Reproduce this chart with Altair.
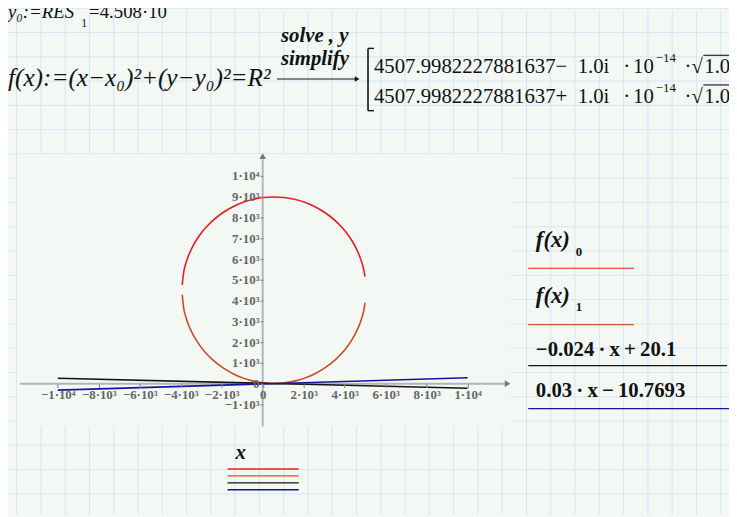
import altair as alt
import pandas as pd
import numpy as np

# ---------------- data ----------------
arc_x = [-3930, -3850, -3750, -3650, -3450, -3250, -2950, -2750, -2450, -1950, -1450, -950, -450, 50, 550,
         1050, 1550, 2050, 2550, 3050, 3550, 3850, 4050, 4350, 4550, 4750, 4850, 4950, 4990]
arc_upper_y = [4760, 5395, 5792, 6088, 6540, 6892, 7313, 7545, 7841, 8230, 8520, 8732, 8877, 8962, 8985,
               8962, 8877, 8732, 8520, 8230, 7841, 7545, 7313, 6892, 6540, 6088, 5792, 5395, 5150]
arc_lower_y = [4290, 3605, 3208, 2912, 2460, 2108, 1687, 1455, 1159, 770, 480, 268, 123, 38, 10,
               38, 123, 268, 480, 770, 1159, 1455, 1687, 2108, 2460, 2912, 3208, 3605, 3900]
line_x = [-10000, 10000]
black_line_y = [260, -220]
blue_line_y = [-311, 289]

series_names = ["f(x)0", "f(x)1", "-0.024x+20.1", "0.03x-10.7693"]
series_colors = ["#ee1c1c", "#d04a22", "#141414", "#1414a0"]

x_tick_values = [-10000, -8000, -6000, -4000, -2000, 0, 2000, 4000, 6000, 8000, 10000]
x_tick_labels = ["−1·10⁴", "−8·10³", "−6·10³", "−4·10³", "−2·10³", "0",
                 "2·10³", "4·10³", "6·10³", "8·10³", "1·10⁴"]
y_tick_values = [-1000, 0, 1000, 2000, 3000, 4000, 5000, 6000, 7000, 8000, 9000, 10000]
y_tick_labels = ["−1·10³", "0", "1·10³", "2·10³", "3·10³", "4·10³", "5·10³",
                 "6·10³", "7·10³", "8·10³", "9·10³", "1·10⁴"]

x_domain = [-11850, 11800]
y_domain = [-2060, 10810]

# ---------------- layout ----------------
W, H = 729, 509
OFF = 8  # page margin


def P(v):
    return v - OFF


BG = "#f4f8f5"
GRID = "#d5e5f5"


def label_expr(vals, labels):
    s = "''"
    for v, l in reversed(list(zip(vals, labels))):
        s = f"datum.value == {v} ? '{l}' : ({s})"
    return s


common_axis = dict(domain=False, grid=False, ticks=True, tickColor="#8c8c8c", tickWidth=1.2,
                   labelFont="Liberation Serif", labelFontWeight="bold", labelFontSize=13,
                   labelColor="#666666", title=None, zindex=1, labelOverlap=False, labelFlush=False)
x_axis = alt.Axis(values=x_tick_values, labelExpr=label_expr(x_tick_values, x_tick_labels),
                  orient="bottom", offset=P(385) - H, tickSize=4, labelPadding=1, **common_axis)
y_axis = alt.Axis(values=y_tick_values, labelExpr=label_expr(y_tick_values, y_tick_labels),
                  orient="left", offset=-(P(265.8)), tickSize=3, labelPadding=1, **common_axis)

xs = alt.Scale(domain=x_domain, range=[P(20), P(510)], nice=False, zero=False)
ys = alt.Scale(domain=y_domain, range=[P(428.3), P(158)], nice=False, zero=False)


def XE(f):
    return alt.X(f, type="quantitative", scale=xs, axis=x_axis)


def YE(f):
    return alt.Y(f, type="quantitative", scale=ys, axis=y_axis)


# ---------------- worksheet grid ----------------
gx = [P(16.7 + 24.55 * k) for k in range(-1, 31)]
gy = [P(152.7 + 24.55 * k) for k in range(-7, 16)]
grid_v = alt.Chart(pd.DataFrame({"gx": gx})).mark_rule(color=GRID, strokeWidth=1).encode(
    x=alt.X("gx:Q", scale=None, axis=None), y=alt.value(0), y2=alt.value(H))
grid_h = alt.Chart(pd.DataFrame({"gy": gy})).mark_rule(color=GRID, strokeWidth=1).encode(
    y=alt.Y("gy:Q", scale=None, axis=None), x=alt.value(0), x2=alt.value(W))

plot_bg = alt.Chart(pd.DataFrame({"a": [0]})).mark_rect(color=BG).encode(
    x=alt.value(P(17.2)), x2=alt.value(P(516)), y=alt.value(P(153.2)), y2=alt.value(P(428)))

# ---------------- axes lines with arrows ----------------
xline = alt.Chart(pd.DataFrame({"x1": [x_domain[0]], "x2": [x_domain[1]], "y": [0]})).mark_rule(
    color="#b4b4b4", strokeWidth=2).encode(x=XE("x1"), x2="x2:Q", y=YE("y"))
yline = alt.Chart(pd.DataFrame({"x": [0], "y1": [y_domain[0]], "y2": [y_domain[1]]})).mark_rule(
    color="#b4b4b4", strokeWidth=2).encode(x=XE("x"), y=YE("y1"), y2="y2:Q")
arrow_r = alt.Chart(pd.DataFrame({"x": [11950], "y": [0]})).mark_point(
    shape="triangle-right", filled=True, color="#777777", size=45, opacity=1).encode(x=XE("x"), y=YE("y"))
arrow_u = alt.Chart(pd.DataFrame({"x": [0], "y": [10950]})).mark_point(
    shape="triangle-up", filled=True, color="#777777", size=45, opacity=1).encode(x=XE("x"), y=YE("y"))

# ---------------- curves ----------------
frames = [
    pd.DataFrame({"series": series_names[0], "x": arc_x, "y": arc_upper_y}),
    pd.DataFrame({"series": series_names[1], "x": arc_x, "y": arc_lower_y}),
    pd.DataFrame({"series": series_names[2], "x": line_x, "y": black_line_y}),
    pd.DataFrame({"series": series_names[3], "x": line_x, "y": blue_line_y}),
]
curves_df = pd.concat(frames, ignore_index=True)
curves = alt.Chart(curves_df).mark_line(strokeWidth=1.6, interpolate="monotone").encode(
    x=XE("x"), y=YE("y"),
    color=alt.Color("series:N", scale=alt.Scale(domain=series_names, range=series_colors), legend=None),
    detail="series:N")

# ---------------- decorative rules (legend swatches, bracket, arrow) ----------------
rules = [
    # legend swatches on the right
    (534, 641, 268.3, 268.3, series_colors[0], 1.2),
    (534, 641, 325.3, 325.3, "#c0603e", 1.2),
    (534, 735, 366.7, 366.7, series_colors[2], 1.2),
    (534, 737, 410.3, 410.3, series_colors[3], 1.2),
    # bottom legend swatches
    (230, 302, 471.3, 471.3, series_colors[0], 1.4),
    (230, 302, 478.3, 478.3, "#e04a1e", 1.4),
    (230, 302, 485.3, 485.3, series_colors[2], 1.4),
    (230, 302, 492.3, 492.3, series_colors[3], 1.4),
    # symbolic arrow
    (280, 360, 77, 77, "#111111", 1.1),
    # bracket
    (372, 372, 46, 109, "#111111", 1.6),
    (372, 378, 46, 46, "#111111", 1.4),
    (372, 378, 109, 109, "#111111", 1.4),
    # sqrt overlines
    (711, 737, 53, 53, "#111111", 1.1),
    (711, 737, 83, 83, "#111111", 1.1),
]
rules_df = pd.DataFrame(rules, columns=["x1", "x2", "y1", "y2", "c", "w"])
for col in ["x1", "x2", "y1", "y2"]:
    rules_df[col] = rules_df[col].map(P)
deco = alt.Chart(rules_df).mark_rule().encode(
    x=alt.X("x1:Q", scale=None, axis=None), x2="x2:Q",
    y=alt.Y("y1:Q", scale=None, axis=None), y2="y2:Q",
    color=alt.Color("c:N", scale=None), strokeWidth=alt.StrokeWidth("w:Q", scale=None))
tri = alt.Chart(pd.DataFrame({"x": [P(361)], "y": [P(77)]})).mark_point(
    shape="triangle-right", filled=True, color="#111111", size=30, opacity=1).encode(
    x=alt.X("x:Q", scale=None, axis=None), y=alt.Y("y:Q", scale=None, axis=None))

# ---------------- text ----------------
T = "\u2009"
texts = [
    ("y₀:=RES", 8, 15, 19, "italic", "normal"),
    ("1", 82, 24, 12, "normal", "normal"),
    ("=4.508·10", 90, 15, 19, "normal", "normal"),
    ("f(x):=(x−x₀)²+(y−y₀)²=R²", 8, 84, 25.5, "italic", "normal"),
    ("solve , y", 284, 40, 21, "italic", "bold"),
    ("simplify", 284, 63, 21, "italic", "bold"),
    ("4507.9982227881637−", 378, 71, 21, "normal", "normal"),
    ("1.0i", 584, 71, 21, "normal", "normal"),
    ("·", 630, 71, 21, "normal", "normal"),
    ("10", 640, 71, 21, "normal", "normal"),
    ("−14", 663, 60, 13, "normal", "normal"),
    ("·", 692, 71, 21, "normal", "normal"),
    ("√", 699, 71, 21, "normal", "normal"),
    ("1.0·", 712, 71, 21, "normal", "normal"),
    ("4507.9982227881637+", 378, 101, 21, "normal", "normal"),
    ("1.0i", 584, 101, 21, "normal", "normal"),
    ("·", 630, 101, 21, "normal", "normal"),
    ("10", 640, 101, 21, "normal", "normal"),
    ("−14", 663, 90, 13, "normal", "normal"),
    ("·", 692, 101, 21, "normal", "normal"),
    ("√", 699, 101, 21, "normal", "normal"),
    ("1.0·", 712, 101, 21, "normal", "normal"),
    ("f(x)", 541.7, 247, 23, "italic", "bold"),
    ("0", 582, 256, 13, "normal", "bold"),
    ("f(x)", 541.7, 303, 23, "italic", "bold"),
    ("1", 582, 312, 13, "normal", "bold"),
    ("−0.024" + T + "·" + T + "x" + T + "+" + T + "20.1", 541.7, 356.7, 21, "normal", "bold"),
    ("0.03" + T + "·" + T + "x" + T + "−" + T + "10.7693", 541.7, 398.3, 21, "normal", "bold"),
    ("x", 238, 461, 21, "italic", "bold"),
]
tdf = pd.DataFrame(texts, columns=["t", "x", "y", "s", "style", "weight"])
tdf["x"] = tdf["x"].map(P)
tdf["y"] = tdf["y"].map(P)
text_layers = []
for (style, weight), g in tdf.groupby(["style", "weight"]):
    text_layers.append(
        alt.Chart(g).mark_text(font="Liberation Serif", fontStyle=style, fontWeight=weight,
                               baseline="alphabetic", align="left", color="#111111").encode(
            x=alt.X("x:Q", scale=None, axis=None), y=alt.Y("y:Q", scale=None, axis=None),
            text="t:N", size=alt.Size("s:Q", scale=None)))

chart = alt.layer(grid_v, grid_h, plot_bg, xline, yline, arrow_r, arrow_u, curves, deco, tri,
                  *text_layers).properties(
    width=W, height=H, autosize=alt.AutoSizeParams(type="none"), padding=0,
    background=BG).resolve_scale(color="independent", size="independent").configure_view(stroke=None)

chart.save("out.html", embed_options={"renderer": "svg", "actions": False})
